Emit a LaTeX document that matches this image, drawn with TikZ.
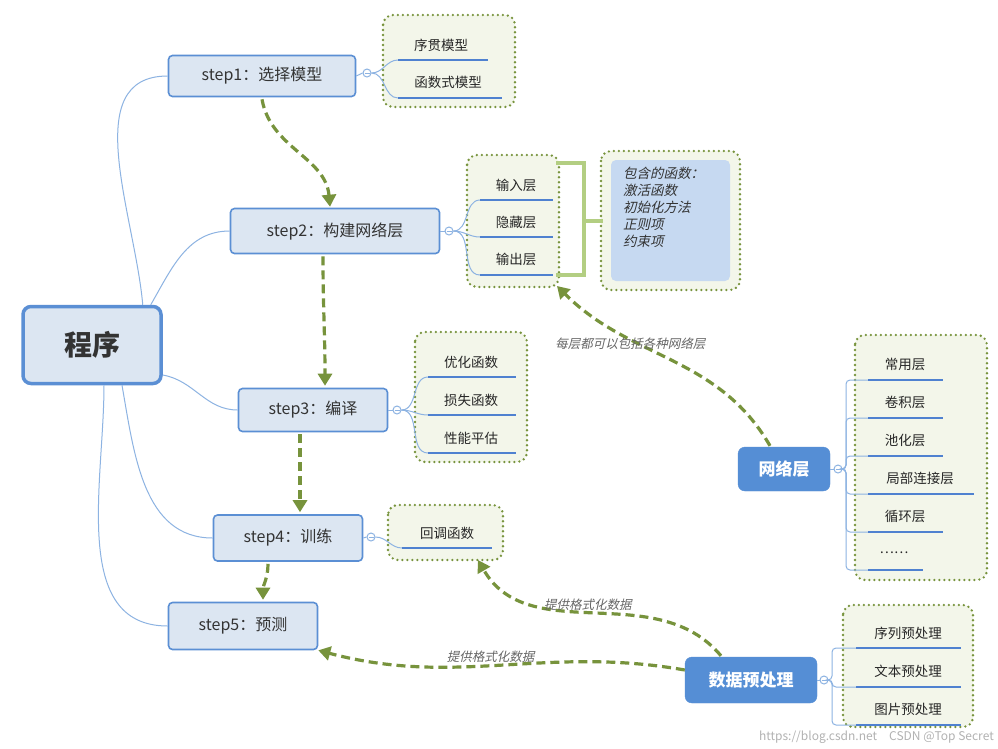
\documentclass[tikz,border=0pt]{standalone}
\usepackage{fontspec}
\setmainfont{Noto Sans CJK SC}
\newfontfamily\itf{Noto Sans CJK SC}[FakeSlant=0.22]
\usetikzlibrary{arrows.meta,calc}
\definecolor{stepfill}{HTML}{DCE6F2}
\definecolor{stepline}{HTML}{5B8FD4}
\definecolor{darkblue}{HTML}{558ED5}
\definecolor{grp}{HTML}{F3F6EA}
\definecolor{grpline}{HTML}{77933C}
\definecolor{ulc}{HTML}{4F81D0}
\definecolor{treec}{HTML}{8DB3E2}
\definecolor{infofill}{HTML}{C6D9F1}
\definecolor{brk}{HTML}{B3CE82}
\tikzset{
 xstp/.style={draw=stepline,line width=1.6pt,fill=stepfill,rounded corners=4pt,font=\fontsize{16}{18}\selectfont,text=black!80,inner sep=0pt},
 xroot/.style={draw=stepline,line width=3.5pt,fill=stepfill,rounded corners=8pt,font=\fontsize{28}{30}\selectfont\bfseries,text=black!80,inner sep=0pt},
 xdark/.style={draw=darkblue,fill=darkblue,rounded corners=7pt,text=white,font=\fontsize{17}{19}\selectfont\bfseries,inner sep=0pt},
 xgrp/.style={draw=grpline,fill=grp,line width=2.6pt,dash pattern=on 0pt off 5pt,line cap=round,rounded corners=10pt},
 xitem/.style={font=\fontsize{13.5}{15}\selectfont,text=black!85,inner sep=1pt},
 xul/.style={draw=ulc,line width=2.4pt},
 xtree/.style={draw=treec,line width=1pt},
 xmkr/.style={circle,draw=treec,fill=white,line width=1pt,minimum size=8pt,inner sep=0pt},
 xflow/.style={draw=grpline,line width=3.2pt,dash pattern=on 9pt off 5pt,-{Triangle[length=12pt,width=14pt]}},
 xlbl/.style={font=\itf\fontsize{12.5}{14}\selectfont,text=black!60,inner sep=1pt},
 x=1pt,y=-1pt
}
\begin{document}
\begin{tikzpicture}
\useasboundingbox (0,0) rectangle (998,748);
\fill[white] (0,0) rectangle (998,748);
% groups
\draw[xgrp] (383,15) rectangle (515,107);
\draw[xgrp] (467,155) rectangle (559,287);
\draw[xgrp] (601,151) rectangle (740,290);
\draw[xgrp] (415,332) rectangle (527,462);
\draw[xgrp] (388,505) rectangle (503,560);
\draw[xgrp] (855,335) rectangle (987,580);
\draw[xgrp] (843,605) rectangle (973,727);
\fill[infofill,rounded corners=5pt] (611,160) rectangle (730,281);
% nodes
\node[xroot,minimum width=138pt,minimum height=77pt] (root) at (92,345) {程序};
\node[xstp,minimum width=187pt,minimum height=41pt] (s1) at (262,76) {step1：选择模型};
\node[xstp,minimum width=209pt,minimum height=45pt] (s2) at (335,231) {step2：构建网络层};
\node[xstp,minimum width=149pt,minimum height=43pt] (s3) at (313,410) {step3：编译};
\node[xstp,minimum width=149pt,minimum height=46pt] (s4) at (288,538) {step4：训练};
\node[xstp,minimum width=149pt,minimum height=47pt] (s5) at (243,626) {step5：预测};
\node[xdark,minimum width=92pt,minimum height=44pt] (net) at (784,469) {网络层};
\node[xdark,minimum width=132pt,minimum height=46pt] (data) at (751,680) {数据预处理};
% root connectors
\draw[xtree] (root.north east) ++(-20,0) to[out=95,in=180] (s1.west);
\draw[xtree] (root.north east) ++(-12,0) to[out=60,in=180] (s2.west);
\draw[xtree] (root.east) ++(0,30) to[out=-10,in=180] (s3.west);
\draw[xtree] (root.south) ++(30,0) to[out=-80,in=180] (s4.west);
\draw[xtree] (root.south) ++(12,0) to[out=-90,in=180] (s5.west);
% markers
\node[xmkr] (m1) at (367,73) {};
\node[xmkr] (m2) at (449,231) {};
\node[xmkr] (m3) at (397,410) {};
\node[xmkr] (m4) at (371,537) {};
\node[xmkr] (m5) at (838,469) {};
\node[xmkr] (m6) at (824,680) {};
\foreach \m in {m1,m2,m3,m4,m5,m6}{\draw[treec,line width=1pt] ($(\m)+(-2.5,0)$) -- ($(\m)+(2.5,0)$);}
\draw[xtree] (s1.east) -- (m1.west);
\draw[xtree] (s2.east) -- (m2.west);
\draw[xtree] (s3.east) -- (m3.west);
\draw[xtree] (s4.east) -- (m4.west);
\draw[xtree] (net.east) -- (m5.west);
\draw[xtree] (data.east) -- (m6.west);
% items group 1
\node[xitem] (a1) at (441,45) {序贯模型};
\node[xitem] (a2) at (448,82) {函数式模型};
\draw[xtree] (m1.east) to[out=0,in=180] (398,60); \draw[xul] (398,60) -- (488,60);
\draw[xtree] (m1.east) to[out=0,in=180] (398,98); \draw[xul] (398,98) -- (502,98);
% group 2
\node[xitem] (b1) at (516,185) {输入层};
\node[xitem] (b2) at (516,222) {隐藏层};
\node[xitem] (b3) at (516,259) {输出层};
\foreach \y in {200,237,275}{\draw[xtree] (m2.east) to[out=0,in=180] (480,\y); \draw[xul] (480,\y) -- (553,\y);}
% bracket
\draw[brk,line width=4pt] (556,163) -- (584,163) -- (584,275) -- (556,275);
\draw[brk,line width=4pt] (584,221) -- (603,221);
\node[xlbl,font=\itf\fontsize{13.5}{17}\selectfont,text=black!80,align=left,anchor=north west] (info) at (622,166) {包含的函数：\\激活函数\\初始化方法\\正则项\\约束项};
% group 3
\node[xitem] (c1) at (471,362) {优化函数};
\node[xitem] (c2) at (471,400) {损失函数};
\node[xitem] (c3) at (471,438) {性能平估};
\foreach \y in {377,415,453}{\draw[xtree] (m3.east) to[out=0,in=180] (428,\y); \draw[xul] (428,\y) -- (516,\y);}
% group 4
\node[xitem] (d1) at (447,533) {回调函数};
\draw[xtree] (m4.east) to[out=0,in=180] (402,548); \draw[xul] (402,548) -- (492,548);
% group 6
\node[xitem] (e1) at (905,364) {常用层};
\node[xitem] (e2) at (905,402) {卷积层};
\node[xitem] (e3) at (905,440) {池化层};
\node[xitem] (e4) at (920,478) {局部连接层};
\node[xitem] (e5) at (905,516) {循环层};
\node[xitem] (e6) at (894,553) {……};
\foreach \y/\xe in {380/943,418/943,456/943,494/974,532/943,570/923}{\draw[xtree,rounded corners=4pt] (m5.east) -- (846,469) |- (868,\y); \draw[xul] (868,\y) -- (\xe,\y);}
% group 7
\node[xitem] (f1) at (908,633) {序列预处理};
\node[xitem] (f2) at (908,671) {文本预处理};
\node[xitem] (f3) at (908,709) {图片预处理};
\foreach \y in {648,687,725}{\draw[xtree,rounded corners=4pt] (m6.east) -- (832,680) |- (856,\y); \draw[xul] (856,\y) -- (961,\y);}
% flows
\draw[xflow] (s1.south) ++(0,2) to[out=-80,in=95] ($(s2.north)+(-5,-1)$);
\draw[xflow] (s2.south) ++(-12,2) to[out=-90,in=90] ($(s3.north)+(12,-2)$);
\draw[xflow] (s3.south) ++(-13,2) to[out=-90,in=90] ($(s4.north)+(12,-2)$);
\draw[xflow] (s4.south) ++(-20,2) to[out=-90,in=90] ($(s5.north)+(20,-2)$);
\draw[xflow] ($(net.north)+(-14,-1)$) to[out=120,in=-45] node[xlbl,pos=0.55,above,xshift=-30pt,yshift=2pt] {每层都可以包括各种网络层} (557,286);
\draw[xflow] ($(data.north)+(-30,-1)$) to[out=130,in=-60] node[xlbl,pos=0.45,above,xshift=-20pt] {提供格式化数据} (478,560);
\draw[xflow] (data.west) ++(0,-10) to[out=170,in=-15] node[xlbl,pos=0.5,above,xshift=-10pt] {提供格式化数据} (s5.south east);
% watermark
\node[font=\fontsize{12}{14}\selectfont,text=black!30,anchor=south east,inner sep=2pt] (wm) at (996,746) {https://blog.csdn.net\quad CSDN @Top Secret};
\end{tikzpicture}
\end{document}
